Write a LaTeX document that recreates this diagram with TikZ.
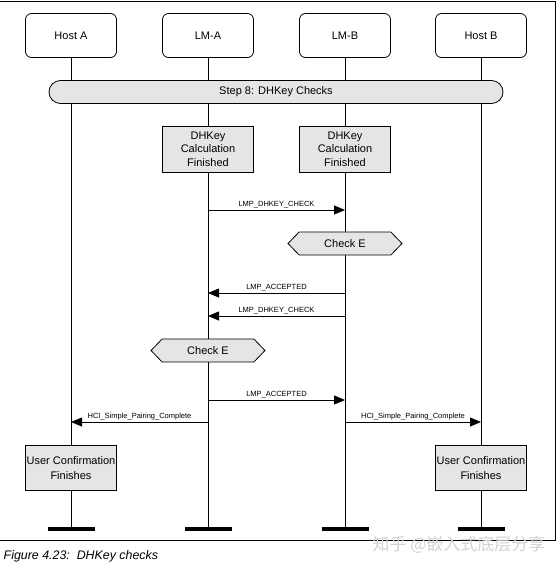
\documentclass[tikz,border=0pt]{standalone}
\usepackage{fontspec}
\setmainfont{Liberation Sans}
\newfontfamily\cjkfont{Noto Sans CJK SC}
\usetikzlibrary{arrows.meta}
\usetikzlibrary{shapes.symbols}
\usetikzlibrary{positioning}

\begin{document}
\begin{tikzpicture}[x=1pt,y=-1pt,line width=0.8pt,>={Triangle[length=11pt,width=9pt]},
    font=\fontsize{11}{13.5}\selectfont,
    head node/.style={rectangle,draw,rounded corners=6pt,fill=white,minimum width=91pt,minimum height=44pt},
    calc node/.style={rectangle,draw,fill=gray!20,align=center,minimum width=91pt,minimum height=46pt,inner sep=1pt},
    check node/.style={signal,signal to=west and east,signal pointer angle=92,draw,fill=gray!20,minimum width=114pt,minimum height=23pt,inner sep=1pt},
    end bar/.style={rectangle,fill=black,minimum width=47pt,minimum height=3.5pt,inner sep=0pt},
    msg/.style={->,line width=0.8pt},
    msg label/.style={above,font=\fontsize{7.5}{9}\selectfont,inner sep=2pt}]
   \useasboundingbox (0,0) rectangle (556,567);
   % frame
   \draw (0,1) -- (555,1) -- (555,540) -- (0,540);
   \node[head node] (hostA) at (71,35.5) {Host A};
   \node[head node] (lmA) at (208,35.5) {LM-A};
   \node[head node] (lmB) at (345,35.5) {LM-B};
   \node[head node] (hostB) at (481,35.5) {Host B};
   % lifelines
   \coordinate (hostA end) at (71,529);
   \coordinate (lmA end) at (208,529);
   \coordinate (lmB end) at (345,529);
   \coordinate (hostB end) at (481,529);
   \path (hostA) edge (hostA end);
   \path (lmA) edge (lmA end);
   \path (lmB) edge (lmB end);
   \path (hostB) edge (hostB end);
   \node[end bar] (hostA bar) at (hostA end) {};
   \node[end bar] (lmA bar) at (lmA end) {};
   \node[end bar] (lmB bar) at (lmB end) {};
   \node[end bar] (hostB bar) at (hostB end) {};

   \node[draw,fill=gray!20,rounded corners=11.5pt,minimum width=454pt,minimum height=23pt] (step) at (276,92) {Step 8: DHKey Checks};
   \node[calc node] (calcA) at (208,149) {DHKey\\Calculation\\Finished};
   \node[calc node] (calcB) at (345,149) {DHKey\\Calculation\\Finished};
   \node[check node] (checkB) at (345,243.5) {Check E};
   \node[check node] (checkA) at (208,350.5) {Check E};
   \node[calc node,font=\fontsize{11}{15.5}\selectfont,minimum height=45pt] (userA) at (71,468) {User Confirmation\\Finishes};
   \node[calc node,font=\fontsize{11}{15.5}\selectfont,minimum height=45pt] (userB) at (481,468) {User Confirmation\\Finishes};

   % messages
   \coordinate (m1) at (0,210);
   \coordinate (m2) at (0,293);
   \coordinate (m3) at (0,316);
   \coordinate (m4) at (0,400);
   \coordinate (m5) at (0,422);
   \path[msg] (lmA |- m1) edge node[msg label] {LMP\_DHKEY\_CHECK} (lmB |- m1);
   \path[msg] (lmB |- m2) edge node[msg label] {LMP\_ACCEPTED} (lmA |- m2);
   \path[msg] (lmB |- m3) edge node[msg label] {LMP\_DHKEY\_CHECK} (lmA |- m3);
   \path[msg] (lmA |- m4) edge node[msg label] {LMP\_ACCEPTED} (lmB |- m4);
   \path[msg] (lmA |- m5) edge node[msg label] {HCI\_Simple\_Pairing\_Complete} (hostA |- m5);
   \path[msg] (lmB |- m5) edge node[msg label] {HCI\_Simple\_Pairing\_Complete} (hostB |- m5);

   \node[anchor=west,font=\fontsize{12.4}{14}\selectfont\itshape] (caption) at (0,556) {Figure 4.23:\ \ DHKey checks};
   \node[font=\cjkfont\fontsize{17}{20}\selectfont,text=gray!35] (mark) at (459,545) {知乎 @嵌入式底层分享};
  \end{tikzpicture}
\end{document}
